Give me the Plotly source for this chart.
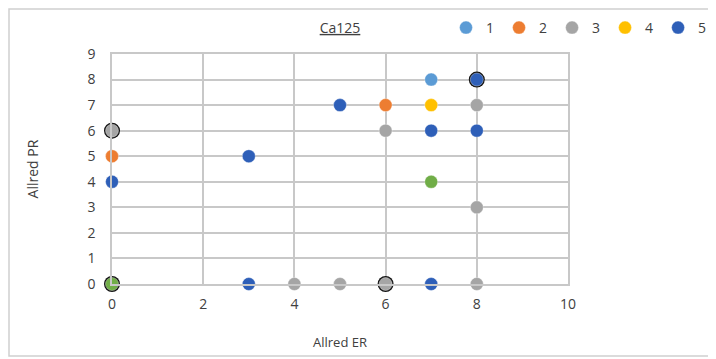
import plotly.graph_objects as go

# Series data (Allred ER, Allred PR)
s1_x = [7]
s1_y = [8]
s2_x = [6, 0]
s2_y = [7, 5]
s3_x = [8, 6, 0, 8, 4, 5, 6, 8]
s3_y = [7, 6, 6, 3, 0, 0, 0, 0]
s4_x = [7]
s4_y = [7]
s5_x = [8, 5, 7, 8, 3, 0, 3, 7]
s5_y = [8, 7, 6, 6, 5, 4, 0, 0]
s6_x = [7, 0]
s6_y = [4, 0]
# overlapping points (shown with a dark outline)
ov_x = [8, 0, 0, 6]
ov_y = [8, 6, 0, 0]

series = [
    ("1", s1_x, s1_y, "#5B9BD5", True),
    ("2", s2_x, s2_y, "#ED7D31", True),
    ("3", s3_x, s3_y, "#A5A5A5", True),
    ("4", s4_x, s4_y, "#FFC000", True),
    ("5", s5_x, s5_y, "#2E5FB8", True),
    ("6", s6_x, s6_y, "#70AD47", False),
]

FONT = "Open Sans, Liberation Sans, sans-serif"
fig = go.Figure()

fig.add_trace(go.Scatter(x=ov_x, y=ov_y, mode="markers", showlegend=False,
                         hoverinfo="skip",
                         marker=dict(size=16, color="#111111", line=dict(width=0))))
for name, xs, ys, col, leg in series:
    fig.add_trace(go.Scatter(x=xs, y=ys, mode="markers", name=name,
                             showlegend=leg,
                             marker=dict(size=13, color=col,
                                         line=dict(width=0.6, color="rgba(255,255,255,0.6)"))))

# page has an 8px body margin, so figure coords = screen coords - 8
OFF = 8
W, H = 716 - OFF, 359 - OFF
L, T = 112 - OFF, 54 - OFF
R = W - (568 - OFF)
B = H - (284 - OFF)
pw, ph = W - L - R, H - T - B

def px(sx):
    return (sx - OFF - L) / pw

def py(sy):
    return ((284 - OFF) - (sy - OFF)) / ph

fig.update_layout(
    width=W, height=H,
    margin=dict(l=L, r=R, t=T, b=B, autoexpand=False),
    paper_bgcolor="white", plot_bgcolor="white",
    font=dict(family=FONT, size=13, color="#404040"),
    title=dict(text="<u>Ca125</u>", x=px(340), xref="paper", xanchor="center",
               y=1 - (28 - OFF) / H, yanchor="middle", font=dict(size=14, color="#404040")),
    legend=dict(orientation="h", x=px(712), xanchor="right",
                y=py(28), yanchor="middle",
                font=dict(size=14, color="#404040"), itemwidth=30,
                bgcolor="rgba(0,0,0,0)"),
    xaxis=dict(range=[0, 10], dtick=2, tick0=0, showgrid=True, gridcolor="#C8C8C8",
               gridwidth=1.5, zeroline=False, showline=True, linecolor="#C8C8C8",
               linewidth=1.5, mirror=True, ticks="", tickfont=dict(size=14),
               ticklabelstandoff=6, automargin=False,
               title=dict(text="Allred ER", standoff=26, font=dict(size=13)),
               fixedrange=True),
    yaxis=dict(range=[0, 9], dtick=1, tick0=0, showgrid=True, gridcolor="#C8C8C8",
               gridwidth=1.5, zeroline=False, showline=True, linecolor="#C8C8C8",
               linewidth=1.5, mirror=True, ticks="", tickfont=dict(size=14),
               ticklabelstandoff=12, automargin=False,
               title=dict(text="Allred PR", standoff=46, font=dict(size=14)),
               fixedrange=True),
    shapes=[dict(type="rect", xref="paper", yref="paper",
                 x0=px(OFF + 1), x1=px(713),
                 y0=py(356), y1=py(OFF + 1),
                 line=dict(color="#D0D0D0", width=1.5), layer="below")],
)
for tr in fig.data:
    tr.cliponaxis = False

fig.write_html("out.html")
